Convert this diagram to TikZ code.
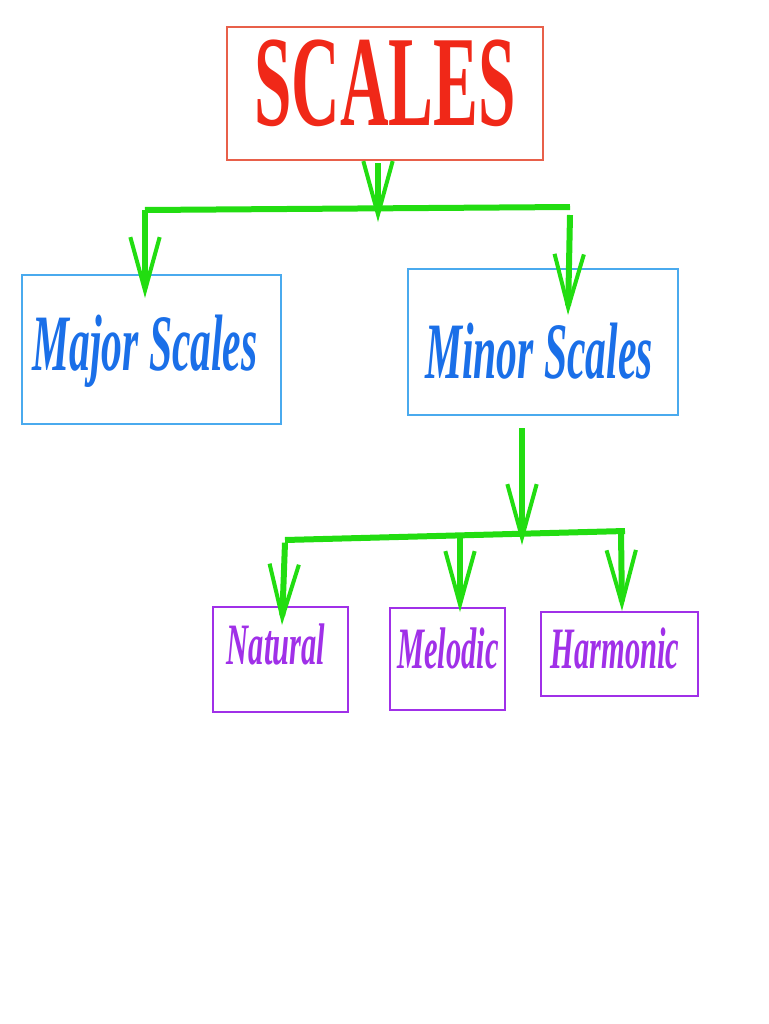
\documentclass[tikz,border=0pt]{standalone}
\usepackage{fontspec}
\newfontfamily\cond{Liberation Serif}[FakeStretch=0.52]
\usetikzlibrary{arrows.meta}
\definecolor{tred}{HTML}{F02818}
\definecolor{tbord}{HTML}{E8604A}
\definecolor{bblue}{HTML}{4AAAEE}
\definecolor{tblue}{HTML}{1A6FE8}
\definecolor{tpur}{HTML}{A030E8}
\definecolor{gr}{HTML}{22DD11}
\begin{document}
\begin{tikzpicture}[x=0.75pt,y=-0.75pt,
 box/.style={draw,line width=2pt},
 lbl/.style={inner sep=0,anchor=base},
 conn/.style={gr,line width=4.5pt},
 arr/.style={conn,-{Straight Barb[length=40pt,width=22pt,line width=3pt]}}]
\useasboundingbox (0,0) rectangle (768,1024);
\draw[box,tbord] (227,27) rectangle (543,160);
\node[lbl,tred,font=\cond\bfseries\fontsize{97}{97}\selectfont] (s) at (385,125) {SCALES};
\draw[box,bblue] (22,275) rectangle (281,424);
\node[lbl,tblue,font=\cond\bfseries\itshape\fontsize{60}{60}\selectfont] (ma) at (145,370) {Major Scales};
\draw[box,bblue] (408,269) rectangle (678,415);
\node[lbl,tblue,font=\cond\bfseries\itshape\fontsize{60}{60}\selectfont] (mi) at (539,378) {Minor Scales};
\draw[box,tpur] (213,607) rectangle (348,712);
\node[lbl,tpur,font=\cond\bfseries\itshape\fontsize{44}{44}\selectfont] (na) at (276,664) {Natural};
\draw[box,tpur] (390,608) rectangle (505,710);
\node[lbl,tpur,font=\cond\bfseries\itshape\fontsize{44}{44}\selectfont] (me) at (448,668) {Melodic};
\draw[box,tpur] (541,612) rectangle (698,696);
\node[lbl,tpur,font=\cond\bfseries\itshape\fontsize{44}{44}\selectfont] (ha) at (615,668) {Harmonic};
\coordinate (t0) at (378,163); \coordinate (t1) at (378,222);
\coordinate (b0) at (145,210); \coordinate (b1) at (570,207);
\coordinate (a0) at (145,298); \coordinate (a1) at (568,315);
\coordinate (m0) at (522,428); \coordinate (m1) at (522,545);
\coordinate (c0) at (285,540); \coordinate (c1) at (625,531);
\coordinate (n1) at (282,625); \coordinate (e0) at (460,536); \coordinate (e1) at (460,612);
\coordinate (h1) at (622,611);
\draw[arr] (t0) -- (t1);
\draw[conn] (b0) -- (b1);
\draw[arr] (b0) -- (a0);
\draw[arr] ([yshift=-6pt]b1) -- (a1);
\draw[arr] (m0) -- (m1);
\draw[conn] (c0) -- (c1);
\draw[arr] ([yshift=-2pt]c0) -- (n1);
\draw[arr] (e0) -- (e1);
\draw[arr] ([xshift=-3pt]c1) -- (h1);
\end{tikzpicture}
\end{document}
